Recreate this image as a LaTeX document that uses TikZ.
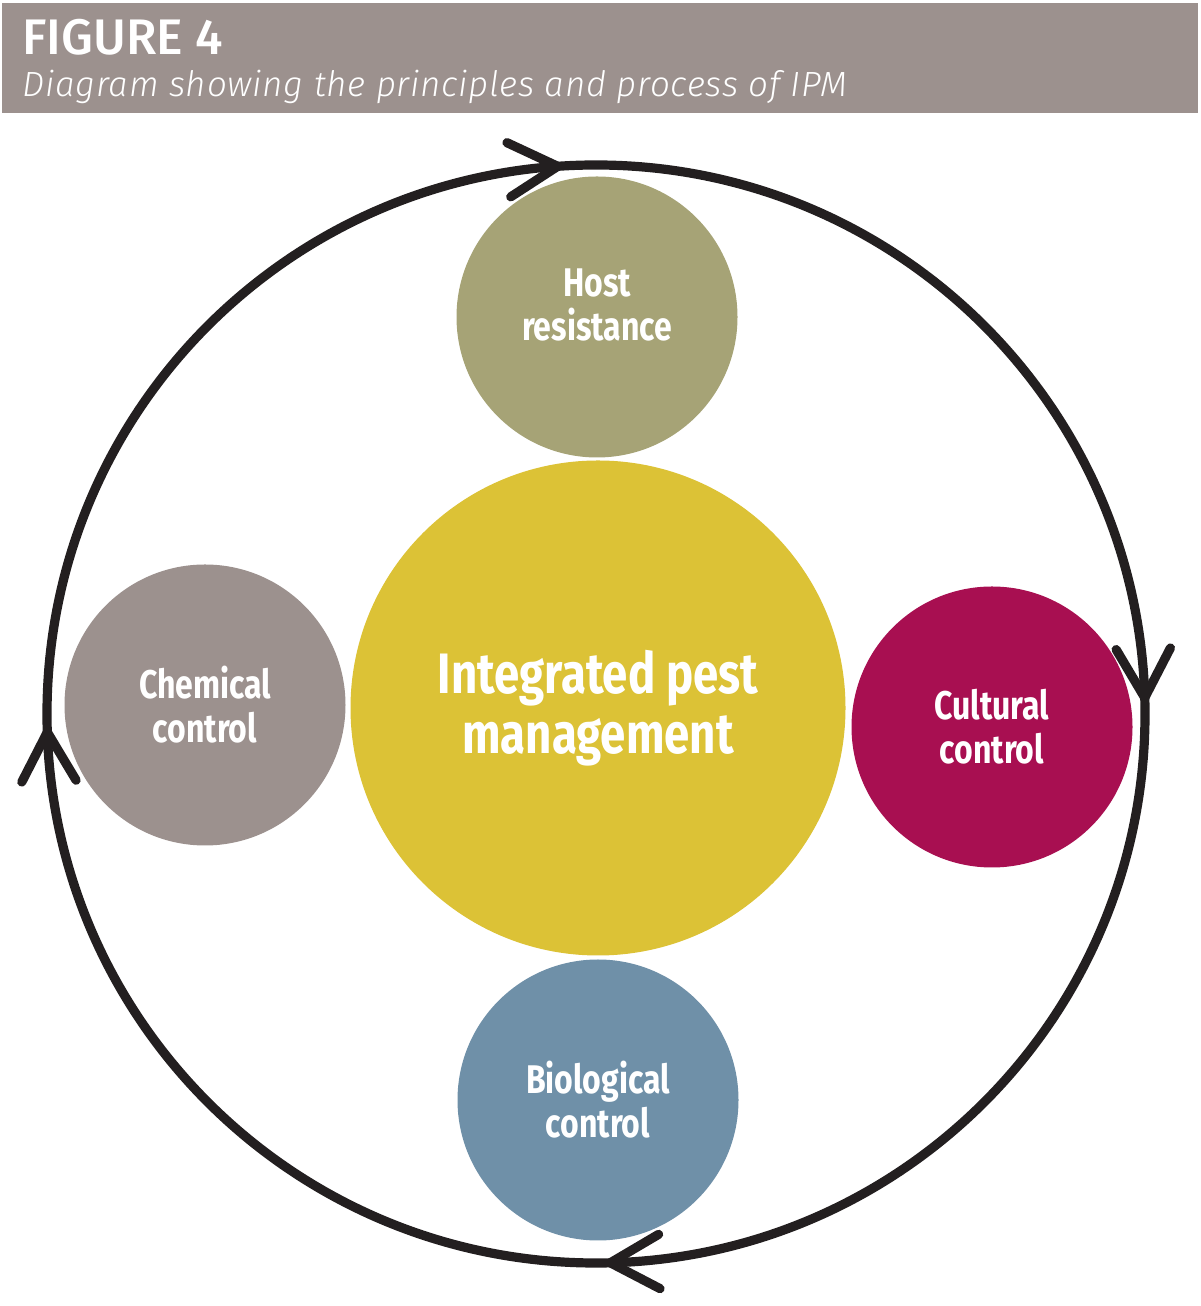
\documentclass[tikz,border=0pt]{standalone}
\usepackage{fontspec}
\setmainfont{Fira Sans}
\newfontfamily\condfont{Fira Sans}[FakeStretch=0.8]
\newfontfamily\headfont{Fira Sans Medium}
\newfontfamily\subfont{Fira Sans Light Italic}[LetterSpace=2]
\usetikzlibrary{positioning}

\definecolor{bargrey}{HTML}{9C918E}
\definecolor{hostgreen}{HTML}{A6A376}
\definecolor{ipmyellow}{HTML}{DCC236}
\definecolor{chemgrey}{HTML}{9C918E}
\definecolor{cultred}{HTML}{A80F51}
\definecolor{bioblue}{HTML}{6F90A8}
\definecolor{ringblack}{HTML}{231F20}

\tikzstyle{disc} = [circle, inner sep=0pt, minimum size=140.5pt, text=white, align=center,
                    font=\condfont\bfseries\fontsize{20}{22}\selectfont]
\tikzstyle{ringline} = [draw=ringblack, line width=4.6pt]
\tikzstyle{chev} = [draw=ringblack, line width=4.6pt, line cap=round, line join=round]

\begin{document}
\begin{tikzpicture}[x=0.5pt, y=0.5pt]
\useasboundingbox (0,0) rectangle (1200,1306);

% title bar
\fill[bargrey] (2,1193) rectangle (1198,1303);
\node[anchor=base west, inner sep=0pt, text=white, font=\headfont\fontsize{25}{25}\selectfont] (title) at (22,1251) {FIGURE 4};
\node[anchor=base west, inner sep=0pt, text=white, font=\subfont\fontsize{17.5}{18}\selectfont] (subtitle) at (22,1209) {Diagram showing the principles and process of IPM};

% cycle
\node[circle, ringline, inner sep=0pt, minimum size=549pt] (ring) at (596,592) {};
\foreach \a in {94,1.7,-88.5,181.9}
  \draw[chev] (ring.center) ++(\a:549) ++(\a+119:56) -- ++(\a-61:56) -- ++(\a+61:56);

% control methods
\node[disc, fill=ipmyellow, minimum size=247.5pt, font=\condfont\bfseries\fontsize{28.5}{30}\selectfont] (ipm) at (598,598) {Integrated pest\\management};
\node[disc, fill=hostgreen, text depth=12pt] (host) at (597,989) {Host\\resistance};
\node[disc, fill=chemgrey] (chem) at (205,601) {Chemical\\control};
\node[disc, fill=cultred] (cult) at (992,579) {Cultural\\control};
\node[disc, fill=bioblue] (bio) at (598,206) {Biological\\control};

\end{tikzpicture}
\end{document}
